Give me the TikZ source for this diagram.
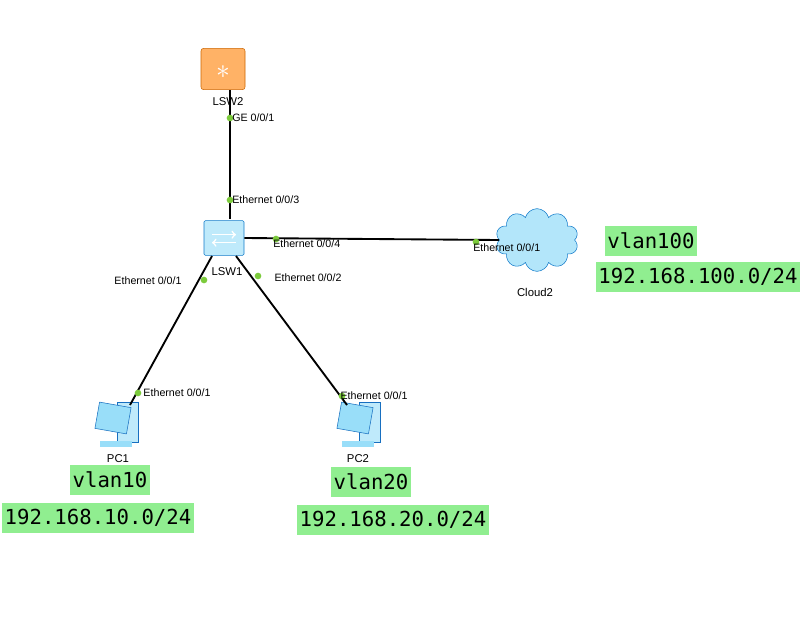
\documentclass[tikz,border=0pt]{standalone}
\usepackage{fontspec}
\setmainfont{Liberation Sans}
\newfontfamily\monof{DejaVu Sans Mono}
\usetikzlibrary{shapes.symbols}
\definecolor{lgreen}{HTML}{90EE90}
\definecolor{dotg}{HTML}{7CCB3C}
\begin{document}
\begin{tikzpicture}[x=0.75pt,y=-0.75pt,
 lbl/.style={font=\fontsize{8}{9}\selectfont,inner sep=0pt},
 dev/.style={font=\fontsize{8.5}{10}\selectfont,inner sep=0pt},
 gbox/.style={fill=lgreen,font=\monof\fontsize{15.5}{17}\selectfont,inner sep=2pt,minimum height=22pt},
 dot/.style={circle,fill=dotg,inner sep=0pt,minimum size=5pt},
 link/.style={line width=1.4pt}]
\useasboundingbox (0,0) rectangle (805,625);
% devices
\node[draw=orange!80!black,fill=orange!60,rounded corners=2pt,minimum width=33pt,minimum height=31pt] (lsw2) at (223,69) {};
\node[text=white,font=\bfseries\huge] at (223,72) {$\ast$};
\node[dev] (lsw2l) at (228,102) {LSW2};
\node[draw=cyan!60!blue,fill=cyan!25,rounded corners=1pt,minimum width=30pt,minimum height=26pt] (lsw1) at (224,238) {};
\draw[white,line width=1.2pt,->] ([xshift=-9pt,yshift=2.5pt]lsw1.center) -- ([xshift=9pt,yshift=2.5pt]lsw1.center);
\draw[white,line width=1.2pt,<-] ([xshift=-9pt,yshift=-3.5pt]lsw1.center) -- ([xshift=9pt,yshift=-3.5pt]lsw1.center);
\node[dev] (lsw1l) at (227,272) {LSW1};
\node[cloud,cloud puffs=10,aspect=1.5,draw=cyan!60!blue,fill=cyan!30,minimum width=62pt,minimum height=47pt] (cloud) at (537,240) {};
\node[dev] (cloudl) at (535,292) {Cloud2};
\foreach \n/\x in {pc1/118,pc2/360}{
 \node[draw=cyan!50!blue,fill=cyan!25,minimum width=16pt,minimum height=30pt] (\n t) at (\x+10,422) {};
 \node[draw=cyan!50!blue,fill=cyan!40,minimum width=24pt,minimum height=20pt,rotate=-10] (\n) at (\x-5,418) {};
 \node[fill=cyan!40,minimum width=24pt,minimum height=4pt,inner sep=0pt] at (\x-2,444) {};
}
\node[dev] at (118,459) {PC1};
\node[dev] at (358,459) {PC2};
% links
\draw[link] (230,90) -- (230,219);
\draw[link] (lsw1.east) -- (cloud.west);
\draw[link] (212,256) -- (130,405);
\draw[link] (236,256) -- (347,405);
% dots + labels
\node[dot] at (230,118) {}; \node[lbl,anchor=west] at (232,118) {GE 0/0/1};
\node[dot] at (230,200) {}; \node[lbl,anchor=west] at (232,200) {Ethernet 0/0/3};
\node[dot] at (276,239) {}; \node[lbl,anchor=west] at (273,244) {Ethernet 0/0/4};
\node[dot] at (476,242) {}; \node[lbl,anchor=west] at (473,248) {Ethernet 0/0/1};
\node[dot] at (204,280) {}; \node[lbl] at (148,281) {Ethernet 0/0/1};
\node[dot] at (258,276) {}; \node[lbl] at (308,278) {Ethernet 0/0/2};
\node[dot] at (138,393) {}; \node[lbl] at (177,393) {Ethernet 0/0/1};
\node[dot] at (342,396) {}; \node[lbl] at (374,396) {Ethernet 0/0/1};
% boxes
\node[gbox] at (110,480) {vlan10};
\node[gbox] at (98,518) {192.168.10.0/24};
\node[gbox] at (371,482) {vlan20};
\node[gbox] at (393,520) {192.168.20.0/24};
\node[gbox] at (651,241) {vlan100};
\node[gbox] at (698,277) {192.168.100.0/24};
\end{tikzpicture}
\end{document}
